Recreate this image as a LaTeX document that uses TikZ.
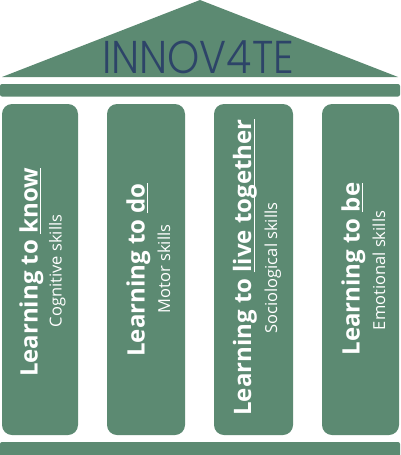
\documentclass[tikz,border=0pt]{standalone}
\usepackage{fontspec}
\setmainfont{Open Sans}
\newfontfamily\titlefont{Poppins Light}
\definecolor{pgreen}{HTML}{5C8A72}
\definecolor{tblue}{HTML}{2D4468}
\newcommand\myul[1]{\setbox0\hbox{#1}\rlap{\rule[-3.6pt]{\wd0}{1.1pt}}\box0}
\tikzset{
  pillar/.style={fill=pgreen, rounded corners=10pt},
  headtext/.style={rotate=90, anchor=base, text=white, inner sep=0pt,
    font=\fontsize{24}{27}\selectfont\bfseries},
  subtext/.style={rotate=90, anchor=base, text=white, inner sep=0pt,
    font=\fontsize{16.5}{20}\selectfont},
}
\begin{document}
\begin{tikzpicture}[x=1pt,y=-1pt]
\useasboundingbox (0,0) rectangle (400,455);
% roof
\fill[pgreen] (200,0) -- (398,77) -- (2,77) -- cycle;
\node[text=tblue, font=\titlefont\fontsize{46}{46}\selectfont, xscale=0.89, inner sep=0pt, anchor=base] (title) at (198,73.5) {INNOV4TE};
% beam
\fill[pgreen, rounded corners=2pt] (0,84) rectangle (400,96.5);
% base
\fill[pgreen, rounded corners=2pt] (0,442) rectangle (400,458);
% pillars
\fill[pillar] (2,104) rectangle (78,435);
\fill[pillar] (107,104) rectangle (185,435);
\fill[pillar] (214,104) rectangle (293,435);
\fill[pillar] (322,104) rectangle (399,435);
\node[headtext] (h1) at (37.5,272.5) {Learning to \myul{know}};
\node[subtext]  (s1) at (61.5,271) {Cognitive skills};
\node[headtext] (h2) at (144.5,270) {Learning to \myul{do}};
\node[subtext]  (s2) at (170,269) {Motor skills};
\node[headtext] (h3) at (251,267.5) {Learning to \myul{live together}};
\node[subtext]  (s3) at (277,268) {Sociological skills};
\node[headtext] (h4) at (359.5,269) {Learning to \myul{be}};
\node[subtext]  (s4) at (385,270.5) {Emotional skills};
\end{tikzpicture}
\end{document}
